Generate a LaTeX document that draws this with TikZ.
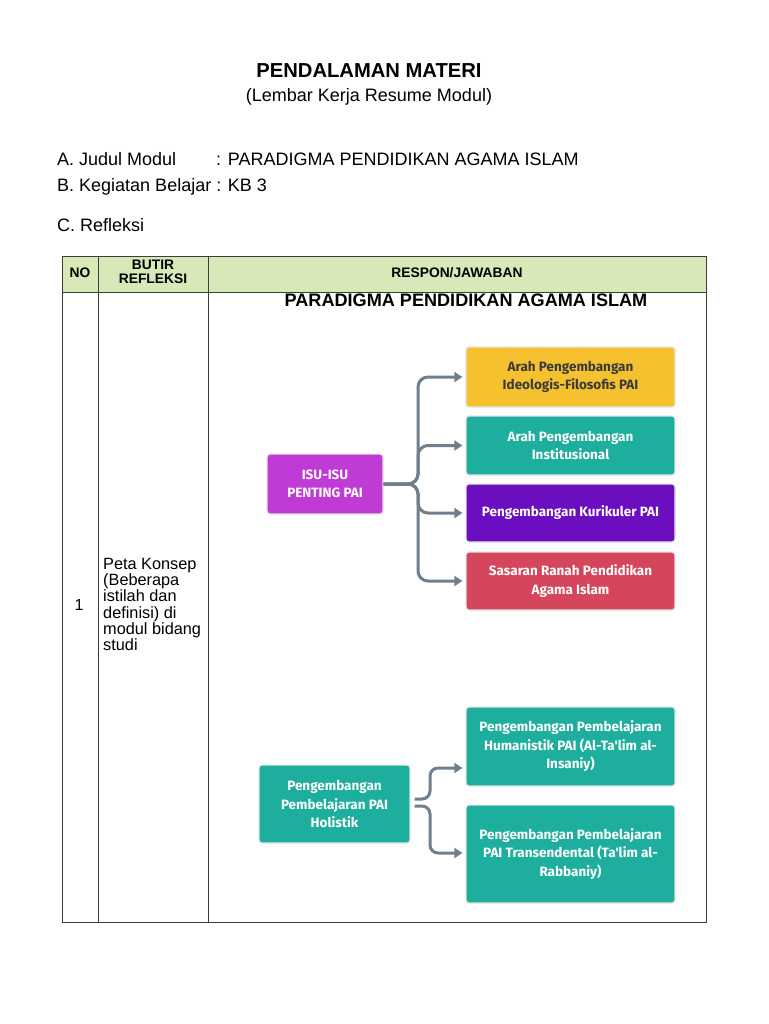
\documentclass[tikz,border=0pt]{standalone}
\usepackage{fontspec}
\setmainfont{Liberation Sans}
\newfontfamily\diagfont{Fira Sans}
\usetikzlibrary{arrows.meta}
\definecolor{hdrgreen}{HTML}{D7E8B9}
\definecolor{tblline}{HTML}{3A3F36}
\definecolor{cyellow}{HTML}{F5C12E}
\definecolor{cteal}{HTML}{1EAE9D}
\definecolor{cpurple}{HTML}{6A0EBF}
\definecolor{cred}{HTML}{D5465C}
\definecolor{cmagenta}{HTML}{C03AD6}
\definecolor{carrow}{HTML}{6F7F8D}
\definecolor{darktext}{HTML}{3A3A3A}
\begin{document}
\begin{tikzpicture}[x=1pt,y=-1pt,
  body/.style={font=\fontsize{18}{21}\selectfont, inner sep=0pt},
  hdr/.style={font=\bfseries\fontsize{13.8}{14}\selectfont, align=center, inner sep=0pt},
  tbl/.style={draw=tblline, line width=0.9pt},
  cbox/.style={rounded corners=3pt, draw=black!10, line width=1.2pt, minimum width=209pt,
    align=center, text=white, inner sep=2pt,
    font=\diagfont\bfseries\fontsize{13.5}{18.5}\selectfont},
  arr/.style={draw=carrow, line width=3pt, rounded corners=10pt,
    -{Triangle[length=8pt,width=10pt]}, shorten >=3pt}
]
\fill[white] (0,0) rectangle (768,1024);
\path[use as bounding box] (0,0) rectangle (768,1024);

% heading
\node[font=\bfseries\fontsize{20.2}{24}\selectfont, inner sep=0pt] (title) at (369,71) {PENDALAMAN MATERI};
\node[body] (sub) at (369,97) {(Lembar Kerja Resume Modul)};
\node[body, anchor=base west] (la) at (57,166) {A. Judul Modul};
\node[body, anchor=base west] (lav) at (216,166) {: PARADIGMA PENDIDIKAN AGAMA ISLAM};
\node[body, anchor=base west] (lb) at (57,192) {B. Kegiatan Belajar : KB 3};
\node[body, anchor=base west] (lc) at (57,232) {C. Refleksi};

% table
\fill[hdrgreen] (62,256) rectangle (706,292);
\draw[tbl] (62,256) rectangle (706,922);
\draw[tbl] (62,292) -- (706,292);
\draw[tbl] (98,256) -- (98,922);
\draw[tbl] (208,256) -- (208,922);
\node[hdr] (hno) at (80,273) {NO};
\node[hdr] (hbutir) at (153,272) {BUTIR\\REFLEKSI};
\node[hdr] (hresp) at (457,273) {RESPON/JAWABAN};
\node[font=\bfseries\fontsize{18.1}{20}\selectfont, inner sep=0pt, anchor=base] (ptitle) at (466,306) {PARADIGMA PENDIDIKAN AGAMA ISLAM};
\node[font=\fontsize{16}{18}\selectfont, inner sep=0pt] (num) at (79,605) {1};
\node[font=\fontsize{16.3}{16.2}\selectfont, inner sep=0pt, align=left, anchor=north west] (peta) at (103,558)
  {Peta Konsep\\(Beberapa\\istilah dan\\definisi) di\\modul bidang\\studi};

% diagram top
\node[cbox, fill=cyellow, text=darktext, minimum height=60pt] (b1) at (570.5,377) {Arah Pengembangan\\Ideologis-Filosofis PAI};
\node[cbox, fill=cteal, minimum height=59pt] (b2) at (570.5,445.5) {Arah Pengembangan\\Institusional};
\node[cbox, fill=cpurple, minimum height=58pt] (b3) at (570.5,513) {Pengembangan Kurikuler PAI};
\node[cbox, fill=cred, minimum height=58pt] (b4) at (570.5,581) {Sasaran Ranah Pendidikan\\Agama Islam};
\node[cbox, fill=cmagenta, minimum width=116pt, minimum height=60pt] (isu) at (325,484) {ISU-ISU\\PENTING PAI};

\coordinate (fx) at (418,0);
\draw[arr] (isu.east) -| (fx |- b1.west) -- (b1.west);
\draw[arr] (isu.east) -| (fx |- b2.west) -- (b2.west);
\draw[arr] (isu.east) -| (fx |- b3.west) -- (b3.west);
\draw[arr] (isu.east) -| (fx |- b4.west) -- (b4.west);

% diagram bottom
\node[cbox, fill=cteal, minimum height=79pt] (h1) at (570.5,746.5) {Pengembangan Pembelajaran\\Humanistik PAI (Al-Ta'lim al-\\Insaniy)};
\node[cbox, fill=cteal, minimum height=98pt] (h2) at (570.5,854) {Pengembangan Pembelajaran\\PAI Transendental (Ta'lim al-\\Rabbaniy)};
\node[cbox, fill=cteal, minimum width=151pt, minimum height=78pt] (hol) at (334.5,804) {Pengembangan\\Pembelajaran PAI\\Holistik};

\coordinate (fx2) at (430,0);
\coordinate (hs1) at ([shift={(4pt,5pt)}]hol.east);
\coordinate (hs2) at ([shift={(4pt,-2pt)}]hol.east);
\coordinate (h1in) at ([yshift=-21.5pt]h1.west);
\coordinate (h2in) at ([yshift=1pt]h2.west);
\draw[arr, rounded corners=8pt] (hs1) -| (fx2 |- h1in) -- (h1in);
\draw[arr, rounded corners=8pt] (hs2) -| (fx2 |- h2in) -- (h2in);
\end{tikzpicture}
\end{document}
